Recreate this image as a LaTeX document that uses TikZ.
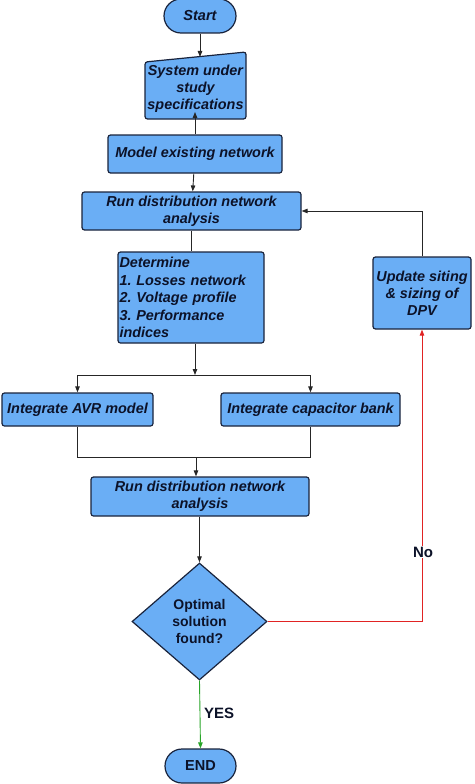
\documentclass[tikz,border=0pt]{standalone}
\usepackage{fontspec}
\setmainfont{Liberation Sans}
\usetikzlibrary{arrows.meta,shapes.geometric,shapes.misc}
\definecolor{boxfill}{RGB}{106,174,245}
\definecolor{boxline}{RGB}{25,35,60}
\definecolor{txt}{RGB}{12,18,40}
\definecolor{nored}{RGB}{225,35,35}
\definecolor{yesgreen}{RGB}{40,165,40}
\frenchspacing
\begin{document}
\begin{tikzpicture}[x=1pt,y=-1pt,
  boxbase/.style={draw=boxline, fill=boxfill, line width=1.2pt, text=txt, inner sep=1pt},
  box/.style={boxbase, rounded corners=2.5pt, align=center,
    font=\fontsize{14.4}{17}\selectfont\bfseries\itshape},
  term/.style={boxbase, rounded rectangle, font=\fontsize{14.5}{17}\selectfont\bfseries\itshape},
  decide/.style={boxbase, diamond, shape aspect=1.15, inner sep=0pt, align=center,
    font=\fontsize{14}{17}\selectfont\bfseries},
  lbl/.style={font=\fontsize{15}{17}\selectfont\bfseries, text=txt, inner sep=1pt},
  line/.style={line width=0.9pt, draw=black!85},
  arr/.style={line, -{Triangle[length=6pt,width=4.5pt]}}
]
\useasboundingbox (0,0) rectangle (474,784);

% Start
\node[term, minimum width=74pt, minimum height=34pt] (start) at (200,16) {Start};

% System (manual input shape)
\coordinate (sysTL) at (145,62);
\coordinate (sysTR) at (246,52);
\coordinate (sysBL) at (145,119);
\coordinate (sysBR) at (246,119);
\draw[boxline, fill=boxfill, line width=1.2pt, rounded corners=2.5pt]
  (sysBL) -- (sysBR) -- (sysTR) -- (sysTL) -- cycle;
\node[align=center, text=txt, inner sep=0pt, font=\fontsize{14.4}{17}\selectfont\bfseries\itshape]
  (sys) at (195.5,89) {System under\\study\\specifications};
\coordinate (systop) at (196,57);
\coordinate (sysin) at (196,112);

\node[box, minimum width=174pt, minimum height=38pt] (model) at (195,154) {Model existing network};
\node[box, minimum width=219pt, minimum height=38pt] (run1) at (191.5,211) {Run distribution network\\analysis};
\node[box, minimum width=146pt, minimum height=91pt, text width=143pt, align=left,
  font=\fontsize{14.4}{17.5}\selectfont\bfseries\itshape] (det) at (191,297.5)
  {Determine\\1. Losses network\\2. Voltage profile\\3. Performance\\indices};
\node[box, minimum width=98pt, minimum height=72pt] (upd) at (422,293) {Update siting\\\& sizing of\\DPV};
\node[box, minimum width=151pt, minimum height=33pt] (avr) at (77.5,409.5) {Integrate AVR model};
\node[box, minimum width=179pt, minimum height=33pt] (cap) at (310.5,409.5) {Integrate capacitor bank};
\node[box, minimum width=218pt, minimum height=39pt] (run2) at (200,496.5) {Run distribution network\\analysis};
\node[decide, minimum width=135pt, minimum height=117pt] (dia) at (199.5,621.5) {Optimal\\solution\\found?};
\node[term, font=\fontsize{14.5}{17}\selectfont\bfseries, minimum width=73pt, minimum height=34pt] (end) at (200.5,766) {END};

\coordinate (split) at (195,375);
\coordinate (merge) at (196,457);

% connectors
\draw[arr] (start.south) -- (start.south |- systop);
\draw[arr] (model.north) -- (model.north |- sysin);
\draw[arr] (model) -- (run1);
\draw[line] (run1.south -| det.north) -- (det.north);
\draw[arr] (det.south -| split) -- (split);
\draw[line] (avr.north |- split) -- (cap.north |- split);
\draw[arr] (avr.north |- split) -- (avr.north);
\draw[arr] (cap.north |- split) -- (cap.north);
\draw[line] (avr.south) -- (avr.south |- merge) -- (cap.south |- merge) -- (cap.south);
\draw[arr] (merge) -- (merge |- run2.north);
\draw[arr] (run2.south -| dia.north) -- (dia.north);
\draw[arr] (upd.north) |- (run1.east);
\draw[arr, draw=nored, color=nored] (dia.east) -| (upd.south);
\draw[arr, draw=yesgreen, color=yesgreen] (dia.south) -- (end.north);

% labels
\node[lbl, fill=white] (nolbl) at (423,552) {No};
\node[lbl, anchor=west] (yeslbl) at (203,713) {YES};
\end{tikzpicture}
\end{document}
